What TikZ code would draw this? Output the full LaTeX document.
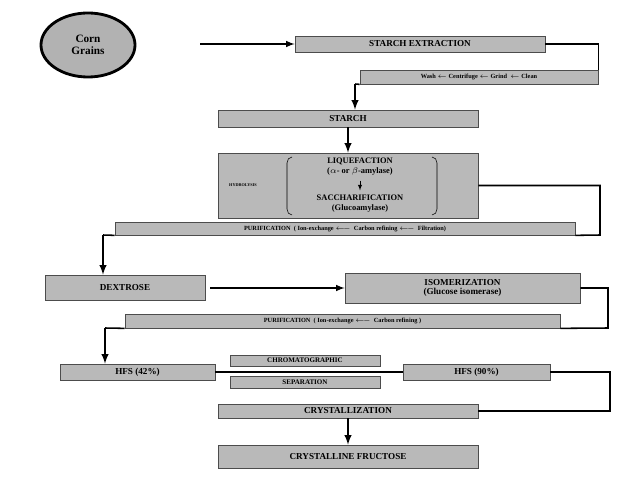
\documentclass[tikz,border=0pt]{standalone}
\usepackage{fontspec}
\setmainfont{Liberation Serif}
\usetikzlibrary{arrows,shapes,positioning,calc}
\tikzset{
  stage/.style={draw=black!70, fill=gray!55, line width=0.5pt, inner sep=0pt, font=\bfseries\fontsize{6.5}{7}\selectfont, align=center},
  flow/.style={line width=1.3pt, -latex},
  link/.style={line width=1.1pt}
}
\newcommand{\stagebox}[6]{% name, x1, y1, x2, y2, text
  \node [stage, minimum width={(#4-#2)*0.025cm}, minimum height={(#5-#3)*0.025cm}] (#1) at ({(#2+#4)/2}, {(#3+#5)/2}) {#6};}
\begin{document}
\begin{tikzpicture}[x=0.025cm, y=-0.025cm]
				\useasboundingbox (0,0) rectangle (638,478);
				
				\node [ellipse, draw, line width=2pt, fill=gray!60, minimum width=2.35cm, minimum height=1.6cm, font=\bfseries\fontsize{8}{9}\selectfont, align=center] (corn) at (88,45) {Corn\\Grains};
				
				\stagebox{extract}{295}{36}{545}{52}{STARCH EXTRACTION}
				\stagebox{wash}{360}{70}{598}{84}{}
				\node [font=\bfseries\fontsize{4.5}{5}\selectfont] (washtext) at (wash) {Wash $\leftarrow$ Centrifuge $\leftarrow$ Grind \ $\leftarrow$ Clean};
				\stagebox{starch}{218}{110}{478}{127}{STARCH}
				\stagebox{hydro}{218}{153}{478}{218}{}
				\node [font=\bfseries\fontsize{6}{7}\selectfont, align=center] (liq) at (360,167) {LIQUEFACTION\\($\alpha$- or $\beta$-amylase)};
				\node [font=\bfseries\fontsize{6}{7}\selectfont, align=center] (sac) at (360,204) {SACCHARIFICATION\\(Glucoamylase)};
				\draw [-latex, thin] (liq.south) -- (sac.north);
				\node [font=\bfseries\fontsize{3}{3}\selectfont] (hydtext) at (243,185) {HYDROLYSIS};
				\draw [thin] (292,157) to [out=180,in=90] (287,163) -- (287,209) to [out=-90,in=180] (292,215);
				\draw [thin] (432,157) to [out=0,in=90] (437,163) -- (437,209) to [out=-90,in=0] (432,215);
				\stagebox{pur}{115}{222}{575}{235}{}
				\node [font=\bfseries\fontsize{4.5}{5}\selectfont] (purtext) at (pur) {PURIFICATION \ ( Ion-exchange $\longleftarrow$ \ Carbon refining $\longleftarrow$ \ Filtration)};
				\stagebox{dex}{45}{275}{205}{300}{DEXTROSE}
				\stagebox{iso}{345}{273}{580}{303}{ISOMERIZATION\\(Glucose isomerase)}
				\stagebox{pur2}{125}{314}{560}{328}{}
				\node [font=\bfseries\fontsize{4.5}{5}\selectfont] (pur2text) at (pur2) {PURIFICATION \ ( Ion-exchange $\longleftarrow$ \ Carbon refining )};
				\stagebox{hfsa}{60}{364}{215}{380}{HFS (42\%)}
				\stagebox{chrom}{230}{355}{380}{366}{}
				\node [font=\bfseries\fontsize{5}{6}\selectfont] (chromtext) at (chrom) {CHROMATOGRAPHIC};
				\stagebox{sep}{230}{376}{380}{388}{}
				\node [font=\bfseries\fontsize{5}{6}\selectfont] (septext) at (sep) {SEPARATION};
				\stagebox{hfsb}{403}{364}{550}{380}{HFS (90\%)}
				\stagebox{cryst}{218}{404}{478}{418}{CRYSTALLIZATION}
				\stagebox{fruct}{218}{445}{478}{468}{CRYSTALLINE FRUCTOSE}
				
				% % % % % % % % % % % % % % % % % % % % % % % % % %
				
				\coordinate (cornout) at (200,44);
				\draw [link, -latex] (cornout) -- (extract.west);
				\draw [link] (extract.east) -| (wash.north east);
				\coordinate (washout) at (355,84);
				\draw [link] (wash.south west) -- (washout);
				\draw [flow] (washout) -- (starch.north -| washout);
				\draw [flow] (starch.south) -- (hydro.north);
				\coordinate (hydroturn) at (600,235);
				\draw [link] (hydro.east) -| (hydroturn) -- (pur.south east);
				\coordinate (purturn) at (103,235);
				\draw [link] (pur.south west) -- (purturn);
				\draw [flow] (purturn) -- (dex.north -| purturn);
				\coordinate (dexout) at (210,288);
				\draw [link, -latex] (dexout) -- (iso.west);
				\coordinate (isoturn) at (608,328);
				\draw [link] (iso.east) -| (isoturn) -- (pur2.south east);
				\coordinate (pur2turn) at (105,328);
				\draw [link] (pur2.south west) -- (pur2turn);
				\draw [flow] (pur2turn) -- (hfsa.north -| pur2turn);
				\draw [link] (hfsa.east) -- (hfsb.west);
				\coordinate (hfsturn) at (610,411);
				\draw [link] (hfsb.east) -| (hfsturn) -- (cryst.east);
				\draw [flow] (cryst.south) -- (fruct.north);
				\end{tikzpicture}
\end{document}
